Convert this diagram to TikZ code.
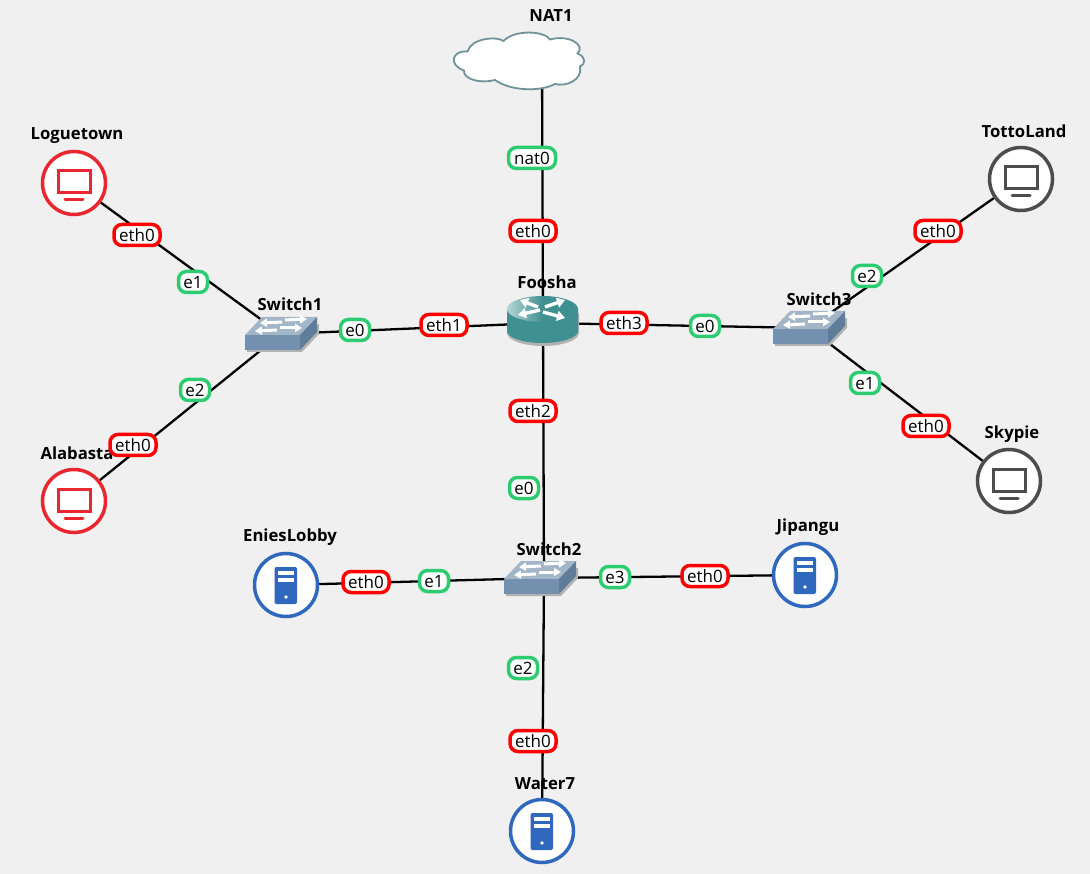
\documentclass[tikz,border=0pt]{standalone}
\usepackage{fontspec}
\setmainfont{Open Sans}
\usetikzlibrary{arrows.meta,backgrounds}

\definecolor{bgcol}{HTML}{F0F0F0}
\definecolor{pcred}{HTML}{E8272F}
\definecolor{pcgray}{HTML}{4D4D4D}
\definecolor{srvblue}{HTML}{2F68BC}
\definecolor{ifgreen}{HTML}{2ECC71}
\definecolor{ifred}{HTML}{FF0000}
\definecolor{cloudline}{HTML}{6F9398}
\definecolor{rtrteal}{HTML}{3F9090}
\definecolor{rtrlight}{HTML}{B5D5D5}
\definecolor{swtop}{HTML}{A3B6C7}
\definecolor{swfront}{HTML}{7390AE}
\definecolor{swside}{HTML}{5F7D99}

\tikzset{
  link/.style={line width=2.3pt, black},
  devname/.style={font=\fontsize{16.7}{19}\selectfont\bfseries, inner sep=0pt, text=black},
  devcircle/.style={circle, draw=#1, fill=white, line width=3.5pt, minimum size=63, inner sep=0pt},
  iflabel/.style={rectangle, rounded corners=8, fill=white, draw=#1, line width=3.5pt,
    font=\fontsize{17}{19}\selectfont, inner sep=0pt, minimum height=21, text depth=0pt},
  swnode/.style={inner sep=0pt, minimum size=2},
  pcicon/.pic={
    \draw[#1, line width=3pt] (-16,-12) rectangle (16,10);
    \draw[#1, line width=3pt, line cap=round] (-9,17) -- (9,17);
  },
  srvicon/.pic={
    \fill[srvblue, rounded corners=2] (-11.5,-18) rectangle (11,19);
    \fill[white] (-8,-14.5) rectangle (7.5,-10.5);
    \fill[white] (-8,-7.5) rectangle (7.5,-3.5);
    \fill[white] (0,12) circle (1.8);
  },
  swicon/.pic={
    \fill[gray!60] (-34,18) -- (21,18) -- (38,0) -- (38,-10) -- (-34,5) -- cycle;
    \fill[swtop] (-36,1) -- (19,1) -- (36,-17) -- (-19,-17) -- cycle;
    \fill[swfront] (-36,1) rectangle (19,16);
    \fill[swside] (19,1) -- (36,-17) -- (36,-2) -- (19,16) -- cycle;
    \draw[white, line width=3pt, -{Triangle[length=7,width=8]}] (1,-12) -- (-21,-11);
    \draw[white, line width=3pt, -{Triangle[length=7,width=8]}] (4,-14) -- (26,-15);
    \draw[white, line width=3pt, -{Triangle[length=7,width=8]}] (-4,-4) -- (-26,-3);
    \draw[white, line width=3pt, -{Triangle[length=7,width=8]}] (-1,-6) -- (21,-6);
  },
}

\begin{document}
\begin{tikzpicture}[x=1pt, y=-1pt]
\useasboundingbox (0,0) rectangle (1090,874);

% Draw the cloud
\draw[cloudline, fill=white, line width=1.8pt]
  (467.5,51.5) .. controls (471,38) and (497,36) .. (503.5,41)
  .. controls (515,29) and (545,31) .. (550,39.5)
  .. controls (570,34) and (586,46) .. (577.5,53.5)
  .. controls (586,57) and (586,64) .. (580,66.5)
  .. controls (583,80) and (566,87) .. (555,84)
  .. controls (540,92) and (510,91) .. (495,80)
  .. controls (480,84) and (463,79) .. (464,70.5)
  .. controls (448,65) and (452,50) .. (467.5,51.5) -- cycle;
\coordinate (nat) at (542,62);

% Draw the router
\fill[gray!60] (507,313) -- (507,333) arc[start angle=180, end angle=0, x radius=36, y radius=13] -- (579,313) -- cycle;
\fill[rtrteal] (507,309) -- (507,331) arc[start angle=180, end angle=0, x radius=35.5, y radius=12] -- (578,309) -- cycle;
\shade[left color=rtrlight, right color=rtrteal, middle color=rtrteal] (542.5,309) ellipse[x radius=35.5, y radius=13];
\node[swnode] (foosha) at (543,323) {};
\draw[white, line width=3.4pt, -{Triangle[length=8,width=10]}] (538,307) -- (520,300);
\draw[white, line width=3.4pt, -{Triangle[length=8,width=10]}] (545,307) -- (565,300);
\draw[white, line width=3.4pt, -{Triangle[length=8,width=10]}] (540,310) -- (518,315);
\draw[white, line width=3.4pt, -{Triangle[length=8,width=10]}] (543,312) -- (565,318);

% Draw the switches
\pic at (281,334) {swicon};
\pic at (540,578) {swicon};
\pic at (809,328) {swicon};
\node[swnode] (sw1) at (281,334) {};
\node[swnode] (sw2) at (544,578) {};
\node[swnode] (sw3) at (809,328) {};

% Draw the hosts
\node[devcircle=pcred] (loguetown) at (74,183) {};
\node[devcircle=pcred] (alabasta) at (74,501) {};
\node[devcircle=pcgray] (totto) at (1021,179) {};
\node[devcircle=pcgray] (skypie) at (1009,481) {};
\node[devcircle=srvblue] (enies) at (286,585) {};
\node[devcircle=srvblue] (jipangu) at (805,575) {};
\node[devcircle=srvblue] (water) at (542,831) {};
\pic at (74,183) {pcicon=pcred};
\pic at (74,501) {pcicon=pcred};
\pic at (1021,179) {pcicon=pcgray};
\pic at (1009,481) {pcicon=pcgray};
\pic at (286,585) {srvicon};
\pic at (805,575) {srvicon};
\pic at (542,831) {srvicon};

% Draw the links
\begin{scope}[on background layer]
\fill[bgcol] (0,0) rectangle (1090,874);
\draw[link] (nat) -- (foosha);
\draw[link] (foosha) -- (sw1);
\draw[link] (foosha) -- (sw2);
\draw[link] (foosha) -- (sw3);
\draw[link] (sw1) -- (loguetown);
\draw[link] (sw1) -- (alabasta);
\draw[link] (sw2) -- (enies);
\draw[link] (sw2) -- (jipangu);
\draw[link] (sw2) -- (water);
\draw[link] (sw3) -- (totto);
\draw[link] (sw3) -- (skypie);
\end{scope}

% Draw the device names
\foreach \dname/\dx/\dy/\dtext in {nNat/551/16/NAT1, nFoosha/547/282/Foosha, nSwa/290/304/Switch1,
  nSwb/549/549/Switch2, nSwc/819/299/Switch3, nLog/77/136/Loguetown, nAla/77/453/Alabasta,
  nTot/1024/131/TottoLand, nSky/1012/434/Skypie, nEni/290/537/EniesLobby,
  nJip/808/527/Jipangu, nWat/545/784/Water7} {
  \node[devname] (\dname) at (\dx,\dy) {\dtext};
}

% Draw the green interface labels
\foreach \lname/\lx/\ly/\ltext in {gSwaA/355/330/e0, gSwaB/193/282/e1, gSwaC/195/390/e2,
  gSwbA/524/488/e0, gSwbB/434/581/e1, gSwbC/523/668/e2, gSwbD/615/577/e3,
  gSwcA/705/326/e0, gSwcB/865/383/e1, gSwcC/867/276/e2} {
  \node[iflabel=ifgreen, minimum width=29] (\lname) at (\lx,\ly) {\ltext};
}
\node[iflabel=ifgreen, minimum width=47] (gNat) at (532,158) {nat0};

% Draw the red interface labels
\foreach \lname/\lx/\ly/\ltext in {rFooA/533/231/eth0, rFooB/444/325/eth1, rFooC/533/411/eth2, rFooD/624/323/eth3,
  rLog/137/235/eth0, rAla/133/445/eth0, rTot/938/231/eth0, rSky/926/426/eth0,
  rEni/366/582/eth0, rJip/705/576/eth0, rWat/533/741/eth0} {
  \node[iflabel=ifred, minimum width=46] (\lname) at (\lx,\ly) {\ltext};
}
\end{tikzpicture}
\end{document}
